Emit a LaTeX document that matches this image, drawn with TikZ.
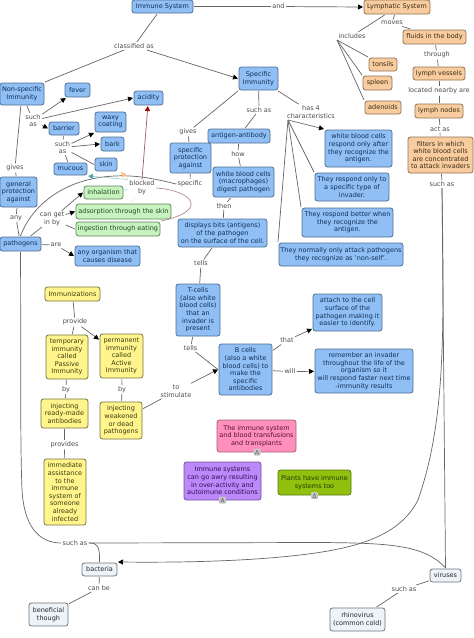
\documentclass[tikz,border=0pt]{standalone}
\usepackage{fontspec}
\setmainfont{DejaVu Sans}
\usetikzlibrary{arrows.meta}
\definecolor{bf}{HTML}{8FBFF5}\definecolor{bd}{HTML}{4F6F92}\definecolor{bt}{HTML}{10305A}
\definecolor{of}{HTML}{F8CC9E}\definecolor{od}{HTML}{8F7355}\definecolor{ot}{HTML}{3A2A15}
\definecolor{gf}{HTML}{C8F2BE}\definecolor{gd}{HTML}{5E8560}\definecolor{gt}{HTML}{1F4A1F}
\definecolor{yf}{HTML}{FFF58C}\definecolor{yd}{HTML}{77733F}\definecolor{yt}{HTML}{3A3A10}
\definecolor{pf}{HTML}{FF90BC}\definecolor{pd}{HTML}{A85C7C}\definecolor{pt}{HTML}{5A1030}
\definecolor{vf}{HTML}{BC88FA}\definecolor{vd}{HTML}{72529A}\definecolor{vt}{HTML}{301050}
\definecolor{lf}{HTML}{92C00E}\definecolor{ld}{HTML}{5A7A10}\definecolor{lt}{HTML}{203A00}
\definecolor{wf}{HTML}{EEF3F8}\definecolor{wd}{HTML}{6E767E}\definecolor{wt}{HTML}{202830}
\definecolor{ln}{HTML}{666666}
\tikzset{
 x=1pt,y=-1pt,
 base/.style={rounded corners=2.5pt,draw,line width=0.8pt,inner sep=0pt,outer sep=1pt,align=center,font=\fontsize{6.5}{7.6}\selectfont},
 bb/.style={base,fill=bf,draw=bd,text=bt},
 ob/.style={base,fill=of,draw=od,text=ot},
 gb/.style={base,fill=gf,draw=gd,text=gt},
 yb/.style={base,fill=yf,draw=yd,text=yt},
 pb/.style={base,fill=pf,draw=pd,text=pt},
 vb/.style={base,fill=vf,draw=vd,text=vt},
 lb/.style={base,fill=lf,draw=ld,text=lt},
 wb/.style={base,fill=wf,draw=wd,text=wt},
 lab/.style={inner sep=1.5pt,outer sep=0pt,align=center,text=black!70,font=\fontsize{6.5}{7.6}\selectfont},
 icon/.style={rounded corners=1pt,fill=black!22,minimum width=7pt,minimum height=7pt,inner sep=0pt,outer sep=0pt},
 conn/.style={draw=ln,line width=0.7pt},
 arr/.style={conn,-{Triangle[length=5pt,width=5pt,color=black]}},
}
\newcommand\bx[7]{\pgfmathsetmacro\cxx{(#3+#5)/2}\pgfmathsetmacro\cyy{(#4+#6)/2}%
 \pgfmathsetmacro\www{#5-#3}\pgfmathsetmacro\hhh{#6-#4}%
 \node[#2,minimum width=\www pt,minimum height=\hhh pt] (#1) at (\cxx,\cyy) {#7};}
\newcommand\lbl[4]{\node[lab] (#1) at (#2,#3) {#4};}
\begin{document}
\begin{tikzpicture}
\useasboundingbox[fill=white] (0,0) rectangle (474,638);
% blue
\bx{imm}{bb}{132}{0}{193}{13}{Immune System}
\bx{non}{bb}{0}{83}{44}{105}{Non-specific\\Immunity}
\bx{fev}{bb}{65}{83}{90}{97}{fever}
\bx{aci}{bb}{134}{91}{163}{105}{acidity}
\bx{wax}{bb}{95}{112}{126}{132}{waxy\\coating}
\bx{bar}{bb}{49}{122}{79}{135}{barrier}
\bx{brk}{bb}{101}{137}{124}{151}{bark}
\bx{ski}{bb}{95}{158}{117}{171}{skin}
\bx{muc}{bb}{54}{163}{87}{175}{mucous}
\bx{gen}{bb}{0}{177}{37}{207}{general\\protection\\against}
\bx{spp}{bb}{170}{143}{211}{173}{specific\\protection\\against}
\bx{ant}{bb}{208}{129}{270}{143}{antigen-antibody}
\bx{spi}{bb}{239}{67}{278}{90}{Specific\\Immunity}
\bx{wbc}{bb}{213}{167}{274}{197}{white blood cells\\(macrophages)\\digest pathogen}
\bx{dis}{bb}{178}{219}{267}{247}{displays bits (antigens)\\of the pathogen\\on the surface of the cell.}
\bx{pat}{bb}{0}{237}{41}{251}{pathogens}
\bx{org}{bb}{75}{246}{140}{266}{any organism that\\causes disease}
\bx{c1}{bb}{325}{130}{392}{167}{white blood cells\\respond only after\\they recognize the\\antigen.}
\bx{c2}{bb}{315}{173}{389}{201}{They respond only to\\a specific type of\\invader.}
\bx{c3}{bb}{302}{208}{393}{237}{They respond better when\\they recognize the\\antigen.}
\bx{c4}{bb}{279}{243}{403}{266}{They normally only attack pathogens\\they recognize as 'non-self'.}
\bx{tce}{bb}{176}{284}{220}{336}{T-cells\\(also white\\blood cells)\\that an\\invader is\\present}
\bx{bce}{bb}{219}{344}{272}{395}{B cells\\(also a white\\blood cells) to\\make the\\specific\\antibodies}
\bx{att}{bb}{313}{294}{382}{331}{attach to the cell\\surface of the\\pathogen making it\\easier to identify.}
\bx{rem}{bb}{315}{349}{413}{393}{remember an invader\\throughout the life of the\\organism so it\\will respond faster next time\\-immunity results}
% orange
\bx{lym}{ob}{364}{0}{430}{14}{Lymphatic System}
\bx{ton}{ob}{369}{58}{397}{71}{tonsils}
\bx{spl}{ob}{363}{76}{392}{90}{spleen}
\bx{ade}{ob}{365}{101}{401}{114}{adenoids}
\bx{flu}{ob}{403}{30}{466}{44}{fluids in the body}
\bx{ves}{ob}{413}{67}{465}{80}{lymph vessels}
\bx{nod}{ob}{415}{104}{463}{118}{lymph nodes}
\bx{fil}{ob}{408}{137}{473}{173}{filters in which\\white blood cells\\are concentrated\\to attack invaders}
% green
\bx{inh}{gb}{84}{186}{123}{199}{inhalation}
\bx{ads}{gb}{76}{204}{171}{219}{adsorption through the skin}
\bx{ing}{gb}{76}{222}{160}{236}{ingestion through eating}
% yellow
\bx{izn}{yb}{45}{287}{100}{301}{Immunizations}
\bx{tem}{yb}{46}{335}{88}{379}{temporary\\immunity\\called\\Passive\\Immunity}
\bx{per}{yb}{100}{334}{143}{378}{permanent\\immunity\\called\\Active\\Immunity}
\bx{rdy}{yb}{41}{399}{88}{428}{injecting\\ready-made\\antibodies}
\bx{wkd}{yb}{100}{402}{142}{439}{injecting\\weakened\\or dead\\pathogens}
\bx{imd}{yb}{44}{459}{86}{525}{immediate\\assistance\\to the\\immune\\system of\\someone\\already\\infected}
% others
\bx{pnk}{pb}{217}{420}{296}{452}{The immune system\\and blood transfusions\\and transplants}
\bx{pur}{vb}{184}{462}{261}{500}{Immune systems\\can go awry resulting\\in over-activity and\\autoimune conditions}
\bx{pla}{lb}{278}{470}{351}{495}{Plants have immune\\systems too}
\bx{bac}{wb}{82}{563}{117}{576}{bacteria}
\bx{vir}{wb}{430}{569}{461}{582}{viruses}
\bx{ben}{wb}{29}{603}{68}{626}{beneficial\\though}
\bx{rhi}{wb}{330}{608}{385}{631}{rhinovirus\\(common cold)}
% icons
\foreach \n/\a/\b in {ic1/257/452,ic2/222.5/500,ic3/314.5/495.5}{
 \node[icon] (\n) at (\a,\b) {};
 \draw[black!65,line width=0.4pt] (\n.center) ++(-1.6,1.8) -- ++(1.6,-3.6) -- ++(1.6,3.6) -- cycle;
}
% labels
\lbl{and}{278.5}{6.5}{and}
\lbl{cla}{134}{46}{classified as}
\lbl{su1}{33}{120.5}{such\\as}
\lbl{giv}{15}{168}{gives}
\lbl{any}{16}{218}{any}
\lbl{su2}{62.5}{147.5}{such\\as}
\lbl{mov}{392}{23}{moves}
\lbl{inc}{352}{36}{includes}
\lbl{thr}{437}{55}{through}
\lbl{loc}{439}{91}{located nearby are}
\lbl{act}{440}{129}{act as}
\lbl{fs}{442}{184}{such as}
\lbl{ssa}{259}{110}{such as}
\lbl{has}{311}{112}{has 4\\characteristics}
\lbl{gi2}{188}{132}{gives}
\lbl{how}{238}{154}{how}
\lbl{sfc}{190}{184}{specific}
\lbl{blk}{142}{188}{blocked\\by}
\lbl{the}{224}{206}{then}
\lbl{tel}{201}{263.5}{tells}
\lbl{can}{52}{219}{can get\\in by}
\lbl{are}{56}{245}{are}
\lbl{pro}{75}{322}{provide}
\lbl{by1}{66}{389.5}{by}
\lbl{by2}{122}{389.5}{by}
\lbl{prs}{64.5}{445}{provides}
\lbl{sti}{176}{391}{to\\stimulate}
\lbl{te2}{190.5}{348}{tells}
\lbl{tha}{287}{340.5}{that}
\lbl{wil}{290}{371.5}{will}
\lbl{suchb}{75}{543}{such as}
\lbl{cnb}{99}{588}{can be}
\lbl{sv}{404}{589}{such as}
% connectors
\draw[conn] (imm) -- (and);
\draw[arr] (and) -- (lym.west);
\draw[conn] (imm) -- (cla);
\draw[arr] (cla) -- (spi.west);
\draw[conn] (cla) -- (non.north east);
\draw[conn] (non) -- (su1);
\draw[arr] (su1) -- (fev);
\draw[arr] (su1) -- (aci.west);
\draw[arr] (su1) -- (bar.west);
\draw[conn] (bar) -- (su2);
\draw[arr] (su2) -- (wax.south west);
\draw[arr] (su2) -- (brk.west);
\draw[conn] (su2) -- (ski.west);
\draw[conn] (su2) -- (muc);
\draw[conn] (non) -- (giv);
\draw[conn] (giv) -- (gen);
\draw[conn] (gen) -- (any);
\draw[conn] (any) -- (pat);
\draw[conn] (pat) -- (can);
\draw[arr] (can) -- (inh.west);
\draw[arr] (can) -- (ads.west);
\draw[conn] (can) -- (ing.west);
\draw[conn] (pat) -- (are);
\draw[arr] (are) -- (org.west);
\draw[conn] (pat.north) .. controls (32,205) and (65,178) .. (115,176) .. controls (135,175) and (152,178) .. (sfc.west);
\draw[conn] (sfc) -- (spp);
\draw[conn] (spp) -- (gi2);
\draw[conn] (gi2) -- (spi.south west);
% blocked by
\draw[draw=red!45!black!65,line width=0.7pt,-{Triangle[length=5pt,width=5pt,color=red!60!black]}] (blk.north) -- (aci);
\draw[draw=teal!35,line width=0.7pt,-{Triangle[length=5pt,width=5pt,color=teal!70]}] (blk.north west) -- (muc.south east);
\draw[draw=orange!25,line width=0.7pt,-{Triangle[length=5pt,width=5pt,color=orange!50]}] (blk.north west) -- (121,172);
\draw[draw=teal!30,line width=0.7pt] (blk) -- (inh);
\draw[draw=red!30!black!45,line width=0.7pt] (blk.east) .. controls (190,190) and (212,210) .. (ing.north east);
\draw[draw=orange!15,line width=0.7pt] (blk) -- (ads);
% specific immunity
\draw[conn] (spi) -- (ssa);
\draw[conn] (ssa) -- (ant);
\draw[conn] (ant) -- (how);
\draw[conn] (how) -- (wbc);
\draw[conn] (wbc) -- (the);
\draw[conn] (the) -- (dis);
\draw[conn] (dis) -- (tel);
\draw[conn] (tel) -- (tce);
\draw[conn] (spi) -- (has);
\coordinate (hp) at (288,120);
\draw[arr] (hp) -- (c1.north west);
\draw[conn] (hp) -- (c2.north west);
\draw[conn] (hp) -- (c3.north west);
\draw[conn] (hp) -- (c4.north west);
% B / T
\draw[conn] (tce) -- (te2);
\draw[conn] (te2) -- (bce.west);
\draw[conn] (wkd) -- (sti);
\draw[arr] (sti) -- (bce.west);
\draw[conn] (bce) -- (tha);
\draw[arr] (tha) -- (att);
\draw[conn] (bce) -- (wil);
\draw[arr] (wil) -- (rem);
% immunizations
\draw[conn] (izn) -- (pro);
\draw[conn] (pro) -- (tem);
\draw[arr] (pro) -- (per);
\draw[conn] (tem) -- (by1);
\draw[conn] (by1) -- (rdy);
\draw[conn] (per) -- (by2);
\draw[conn] (by2) -- (wkd);
\draw[conn] (rdy) -- (prs);
\draw[conn] (prs) -- (imd);
% lymphatic
\draw[conn] (lym) -- (inc);
\draw[conn] (inc.south west) -- (ton.north west);
\draw[conn] (inc.south west) -- (spl.north west);
\draw[conn] (inc.south west) -- (ade.north west);
\draw[conn] (lym) -- (mov);
\draw[conn] (mov) -- (flu);
\draw[conn] (flu) -- (thr);
\draw[conn] (thr) -- (ves);
\draw[conn] (ves) -- (loc);
\draw[conn] (loc) -- (nod);
\draw[conn] (nod) -- (act);
\draw[conn] (act) -- (fil);
\draw[conn] (fil) -- (fs);
% long links
\draw[conn] (fs.south) -- (vir.north);
\draw[arr] (fs.south) .. controls (444,330) and (446,420) .. (418,500) .. controls (400,535) and (360,548) .. (300,555) .. controls (240,562) and (170,562.5) .. (bac.north east);
\draw[conn] (pat.south) .. controls (21,350) and (20,440) .. (22,490) .. controls (24,525) and (38,543) .. (suchb.west);
\draw[conn] (suchb.east) .. controls (97,543) and (100,545) .. (bac.north);
\draw[conn] (suchb.east) -- (320,542.5) .. controls (390,543) and (425,545) .. (vir.north);
\draw[conn] (bac) -- (cnb);
\draw[conn] (cnb) -- (ben);
\draw[conn] (vir) -- (sv);
\draw[conn] (sv) -- (rhi);
\end{tikzpicture}
\end{document}
